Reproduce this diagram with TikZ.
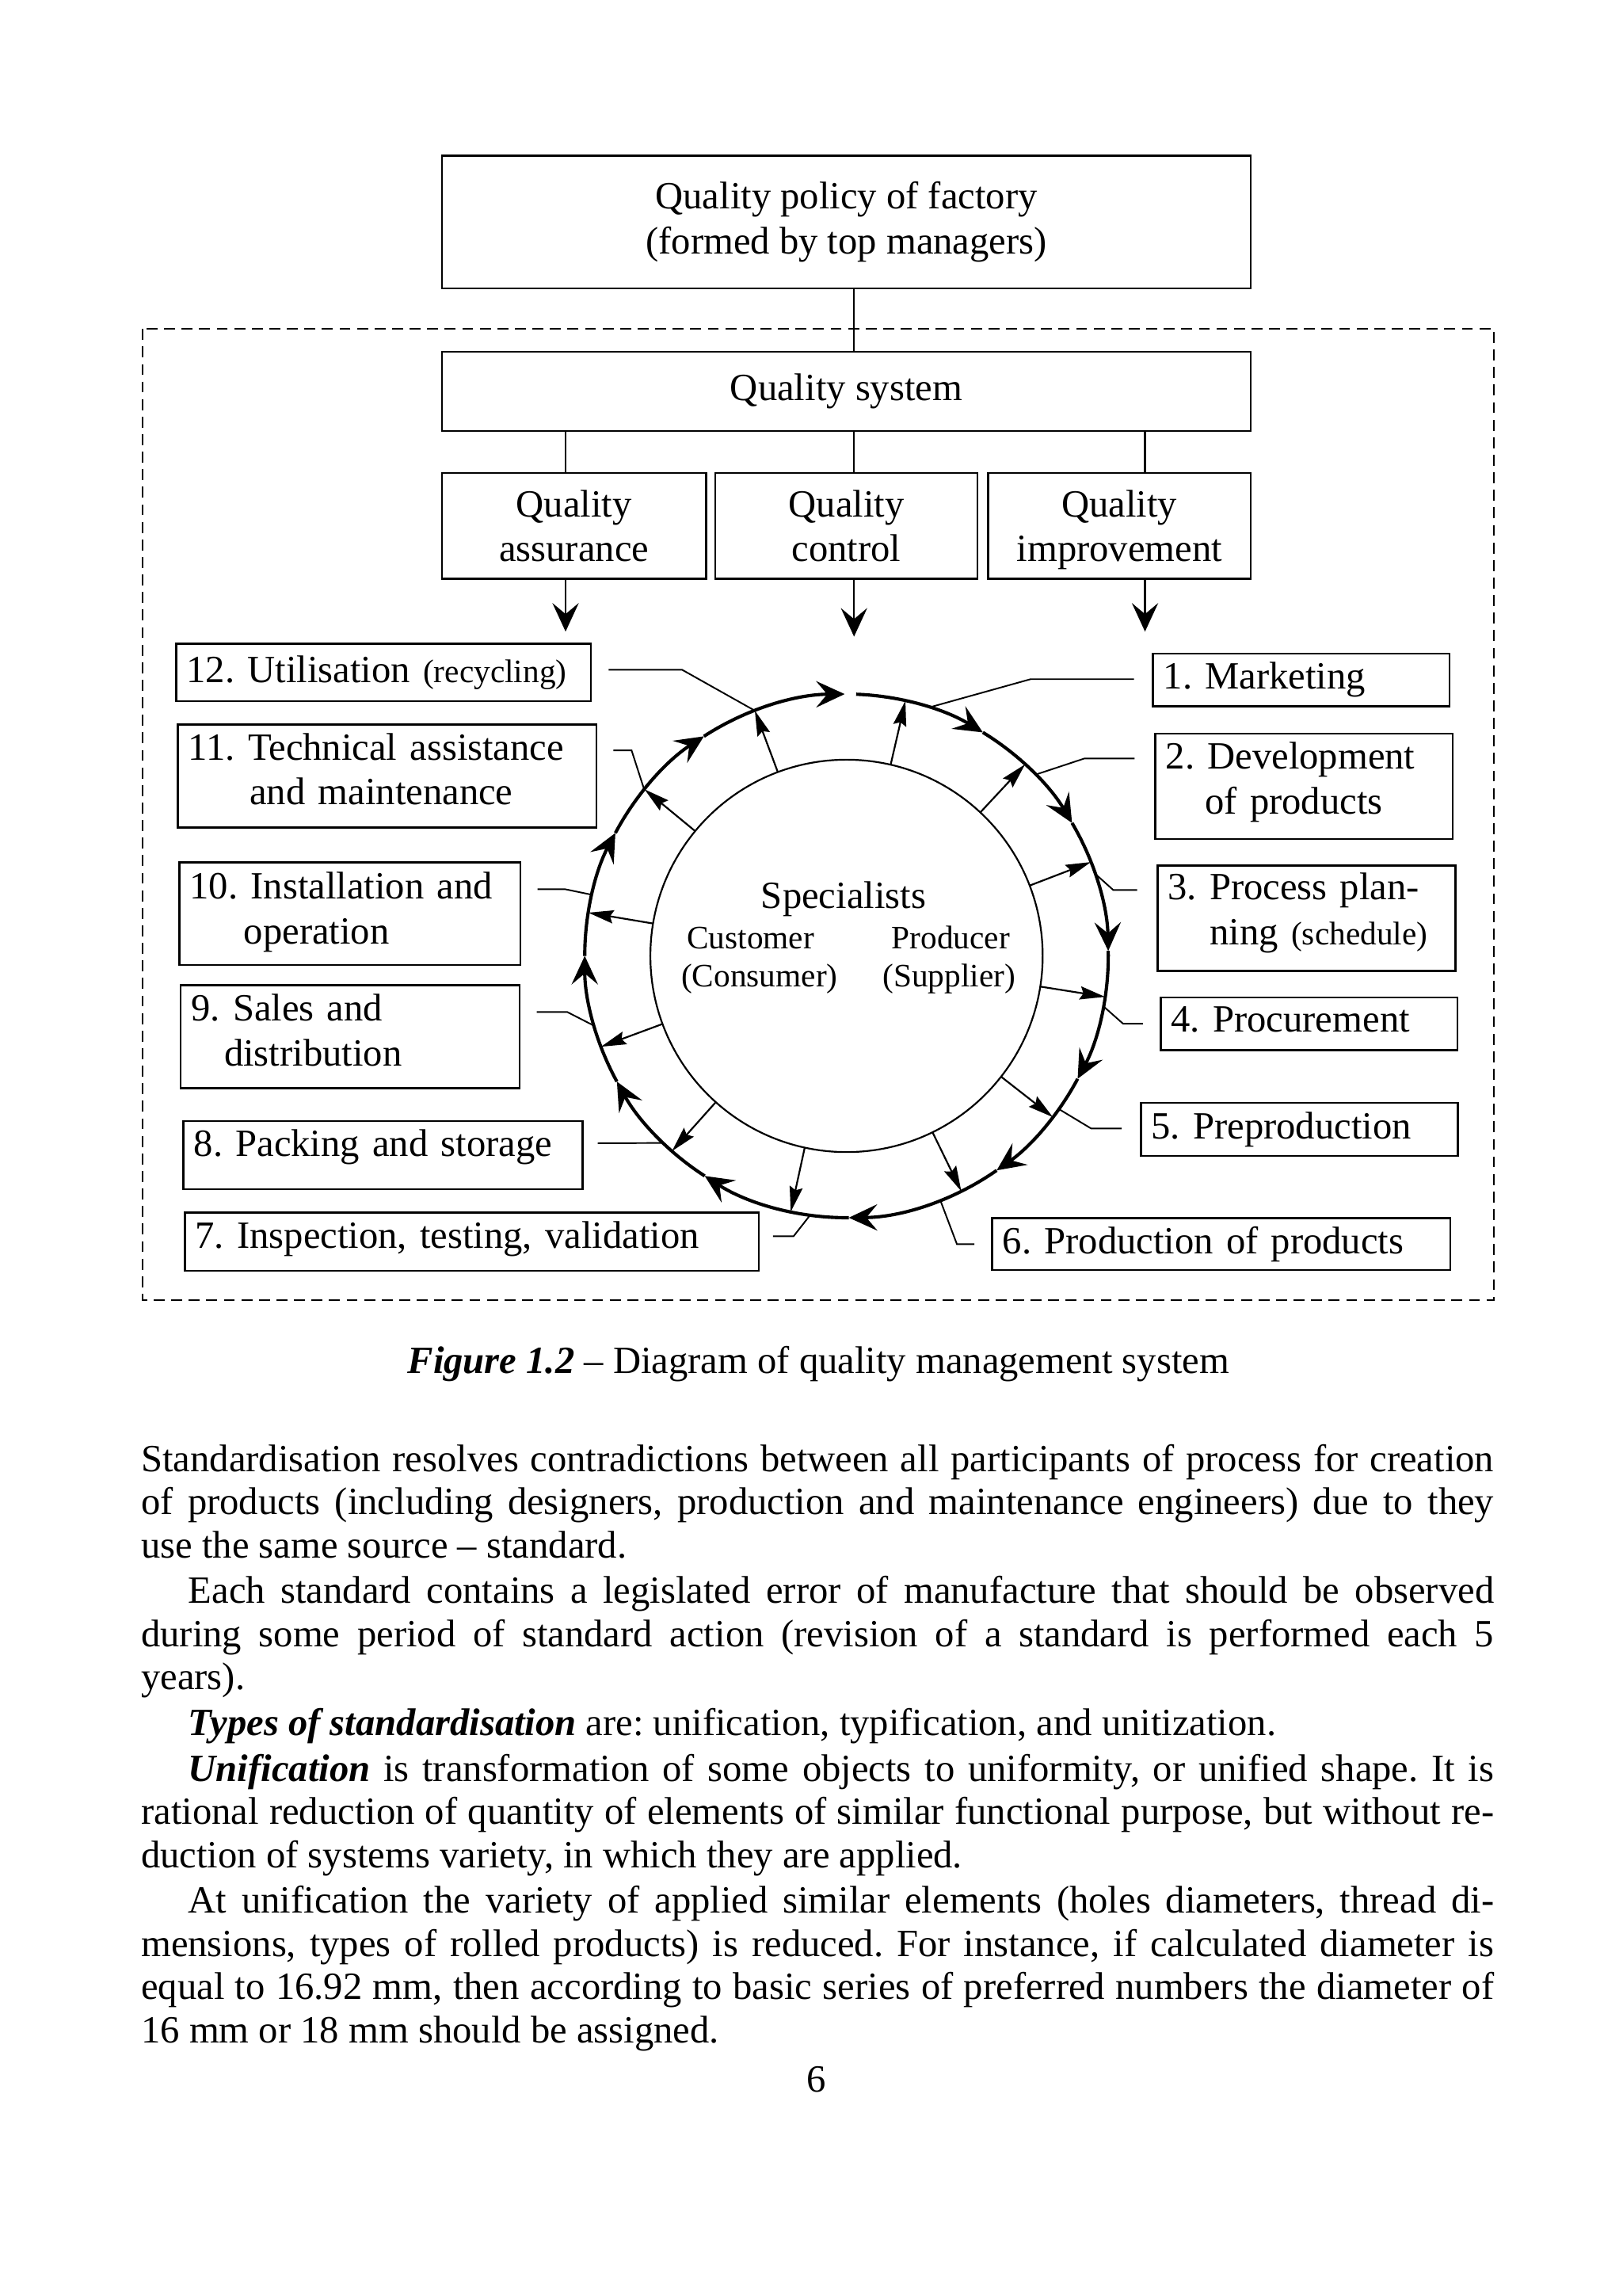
\documentclass[tikz,border=0pt]{standalone}
\usepackage{fontspec}
\setmainfont{Liberation Serif}
\usetikzlibrary{arrows.meta,calc}

\newcommand{\smalltxt}[1]{{\fontsize{8.5}{10}\selectfont #1}}
\newcommand{\fullline}[2]{\makebox[#1][s]{#2}}
\newcommand{\lift}[1]{\rule[-#1]{0pt}{0pt}}
\newcommand{\sink}[1]{\rule{0pt}{#1}}

\tikzset{
  box/.style={draw, line width=0.5pt, inner ysep=0pt, align=center},
  itembox/.style={draw, line width=0.5pt, inner xsep=0.95mm, inner ysep=0pt, align=left},
  conn/.style={line width=0.5pt},
  down/.style={line width=0.5pt, -{Stealth[length=2.6mm,width=2.4mm,inset=1mm]}},
  ring/.style={line width=0.85pt, -{Stealth[length=2.6mm,width=2.4mm,inset=1mm]}},
  spoke/.style={line width=0.45pt, -{Stealth[length=2.3mm,width=1.2mm,inset=0.3mm]}},
  lead/.style={line width=0.4pt},
  frame/.style={line width=0.5pt, dash pattern=on 1mm off 0.6mm},
  bodyline/.style={anchor=base west, inner sep=0pt},
}

\begin{document}
\frenchspacing
\begin{tikzpicture}[x=0.13455mm, y=0.13455mm, font=\fontsize{10}{11.6}\selectfont]
		\useasboundingbox (0,0) rectangle (1100,-1556.5);
		% top of the scheme
		\node[box, minimum width=73.77mm, minimum height=12.08mm] (policy) at (573.9,-150.5) {Quality policy of factory\\(formed by top managers)};
		\node[box, minimum width=73.77mm, minimum height=7.25mm] (qsys) at (573.9,-265.35) {Quality system};
		\node[box, minimum width=24.1mm, minimum height=9.66mm] (qa) at (389.25,-356.4) {Quality\\assurance};
		\node[box, minimum width=23.95mm, minimum height=9.66mm] (qc) at (573.9,-356.4) {Quality\\control};
		\node[box, minimum width=23.95mm, minimum height=9.66mm] (qi) at (759.1,-356.4) {\sink{9pt}Quality\\improvement};
		\coordinate (ka) at ($(qa.north)+(-5.75,0)$);
		\coordinate (kc) at ($(qc.north)+(5.2,0)$);
		\coordinate (ki) at ($(qi.north)+(17.3,0)$);
		\draw[conn] (policy.south -| kc) -- (qsys.north -| kc);
		\draw[conn] (qsys.south -| ka) -- (ka);
		\draw[conn] (qsys.south -| kc) -- (kc);
		\draw[conn] (qsys.south -| ki) -- (ki);
		\draw[down] (qa.south -| ka) -- ++(0,-35.2);
		\draw[down] (qc.south -| kc) -- ++(0,-38.6);
		\draw[down] (qi.south -| ki) -- ++(0,-35.2);
		\draw[frame] (96.8,-223) rectangle (1013,-881.5);
		% stages, left
		\node[itembox, text width=35.92mm, minimum height=5.23mm] (u12) at (260.05,-455.85) {12. Utilisation \smalltxt{(recycling)}};
		\node[itembox, text width=36.26mm, minimum height=9.39mm] (u11) at (262.5,-526) {11. Technical assistance\\\hspace*{5.6mm}and maintenance\lift{1.3mm}};
		\node[itembox, text width=29.23mm, minimum height=9.36mm] (u10) at (237.3,-619.4) {10. Installation and\\\hspace*{4.94mm}operation\lift{1.05mm}};
		\node[itembox, text width=29.02mm, minimum height=9.41mm] (u9) at (237.5,-702.75) {9. Sales and\\\hspace*{3.01mm}distribution\lift{1.22mm}};
		\node[itembox, text width=34.51mm, minimum height=6.24mm] (u8) at (259.7,-783.1) {8. Packing and storage\lift{2.2mm}};
		\node[itembox, text width=50.45mm, minimum height=5.31mm] (u7) at (319.95,-841.85) {7. Inspection, testing, validation\lift{1.28mm}};
		% stages, right
		\node[itembox, text width=25.14mm, minimum height=4.82mm] (u1) at (882.3,-461) {1. Marketing};
		\node[itembox, text width=25.21mm, minimum height=9.63mm] (u2) at (884.15,-533) {2. Development\\\hspace*{3.59mm}of products\lift{1.5mm}};
		\node[itembox, text width=25.27mm, minimum height=9.59mm] (u3) at (885.85,-622.45) {3. Process plan-\\\hspace*{3.83mm}ning \smalltxt{(schedule)}\lift{1.7mm}};
		\node[itembox, text width=25.18mm, minimum height=4.79mm] (u4) at (887.75,-694.1) {4. Procurement\lift{0.78mm}};
		\node[itembox, text width=26.99mm, minimum height=4.82mm] (u5) at (881.05,-765.6) {5. Preproduction};
		\node[itembox, text width=39.89mm, minimum height=4.74mm] (u6) at (828.1,-843.4) {6. Production of products};
		% loop of quality
		\coordinate (O) at (574,-648);
		\draw[line width=0.45pt] (O) circle (133);
		\node[anchor=base] (spec) at (572,-615.6) {Specialists};
		\node[anchor=base, font=\fontsize{8.5}{10}\selectfont] (cust) at (509,-643) {Customer};
		\node[anchor=base, font=\fontsize{8.5}{10}\selectfont] (cons) at (515,-668.7) {(Consumer)};
		\node[anchor=base, font=\fontsize{8.5}{10}\selectfont] (prod) at (644.7,-643) {Producer};
		\node[anchor=base, font=\fontsize{8.5}{10}\selectfont] (supp) at (643.6,-668.7) {(Supplier)};
		\foreach \a/\b in {87.9/58.6, 58.6/30.5, 30.5/1.1, 1.1/-28, -28/-55, -55/-89.5, -89.5/-122.8, -122.8/-151.3, -151.3/-180, -180/-208, -208/-237, -237/-269.6}
			\draw[ring] ($(O)+(\a:177.5)$) arc[start angle=\a, end angle=\b, radius=177.5];
		\foreach \a in {77,47,21,-9,-38,-64,-102.3,-131.8,-159.7,170.5,140.5,110.5}
			\draw[spoke] ($(O)+(\a:133)$) -- ($(O)+(\a:177.5)$);
		% leaders
		\draw[lead] ($(u12.east)+(11.5,1.85)$) -- ++(49.7,0) -- ($(O)+(110.5:177.5)$);
		\draw[lead] ($(u11.east)+(10.9,17.3)$) -- ++(12.4,0) -- ($(O)+(140.6:177.5)$);
		\draw[lead] ($(u10.east)+(10.9,16.6)$) -- ++(18.6,0) -- ($(O)+(166.5:177.5)$);
		\draw[lead] ($(u9.east)+(10.9,16.65)$) -- ++(20.8,0) -- ($(O)+(-164.5:177.5)$);
		\draw[lead] ($(u8.east)+(9.6,8.1)$) -- ($(O)+(-134.4:177.5)$);
		\draw[lead] ($(u7.east)+(9,3.85)$) -- ++(14,0) -- ($(O)+(-98:177.5)$);
		\draw[lead] ($(u1.west)+(-12.3,0.6)$) -- ++(-70,0) -- ($(O)+(71.6:177.5)$);
		\draw[lead] ($(u2.west)+(-13.4,18.8)$) -- ++(-34.1,0) -- ($(O)+(43.8:177.5)$);
		\draw[lead] ($(u3.west)+(-13.2,19.15)$) -- ++(-16.2,0) -- ($(O)+(18.3:177.5)$);
		\draw[lead] ($(u4.west)+(-11.5,0.1)$) -- ++(-13.4,0) -- ($(O)+(-11.1:177.5)$);
		\draw[lead] ($(u5.west)+(-12.4,0.6)$) -- ++(-20.8,0) -- ($(O)+(-35.8:177.5)$);
		\draw[lead] ($(u6.west)+(-11.5,0)$) -- ++(-11.8,0) -- ($(O)+(-69:177.5)$);
		% caption and text of the page
		\node[anchor=base] (cap) at (555,-931) {\textbf{\textit{Figure 1.2}} – Diagram of quality management system};
		\node[bodyline] (l1) at (95.2,-997.6) {\fullline{123.42mm}{Standardisation resolves contradictions between all participants of process for creation}};
		\node[bodyline] (l2) at (95.2,-1026.85) {\fullline{123.42mm}{of products (including designers, production and maintenance engineers) due to they}};
		\node[bodyline] (l3) at (95.2,-1056.1) {use the same source – standard.};
		\node[bodyline] (l4) at (127.2,-1087.05) {\fullline{119.12mm}{Each standard contains a legislated error of manufacture that should be observed}};
		\node[bodyline] (l5) at (95.2,-1116.3) {\fullline{123.42mm}{during some period of standard action (revision of a standard is performed each 5}};
		\node[bodyline] (l6) at (95.2,-1145.55) {years).};
		\node[bodyline] (l7) at (127.2,-1176.5) {\textbf{\textit{Types of standardisation}} are: unification, typification, and unitization.};
		\node[bodyline] (l8) at (127.2,-1207.45) {\fullline{119.12mm}{\textbf{\textit{Unification}} is transformation of some objects to uniformity, or unified shape. It is}};
		\node[bodyline] (l9) at (95.2,-1236.7) {\fullline{123.42mm}{rational reduction of quantity of elements of similar functional purpose, but without re-}};
		\node[bodyline] (l10) at (95.2,-1265.95) {duction of systems variety, in which they are applied.};
		\node[bodyline] (l11) at (127.2,-1296.9) {\fullline{119.12mm}{At unification the variety of applied similar elements (holes diameters, thread di-}};
		\node[bodyline] (l12) at (95.2,-1326.15) {\fullline{123.42mm}{mensions, types of rolled products) is reduced. For instance, if calculated diameter is}};
		\node[bodyline] (l13) at (95.2,-1355.4) {\fullline{123.42mm}{equal to 16.92 mm, then according to basic series of preferred numbers the diameter of}};
		\node[bodyline] (l14) at (95.2,-1384.65) {16 mm or 18 mm should be assigned.};
		\node[anchor=base] (pg) at (553.5,-1418) {6};
\end{tikzpicture}
\end{document}
